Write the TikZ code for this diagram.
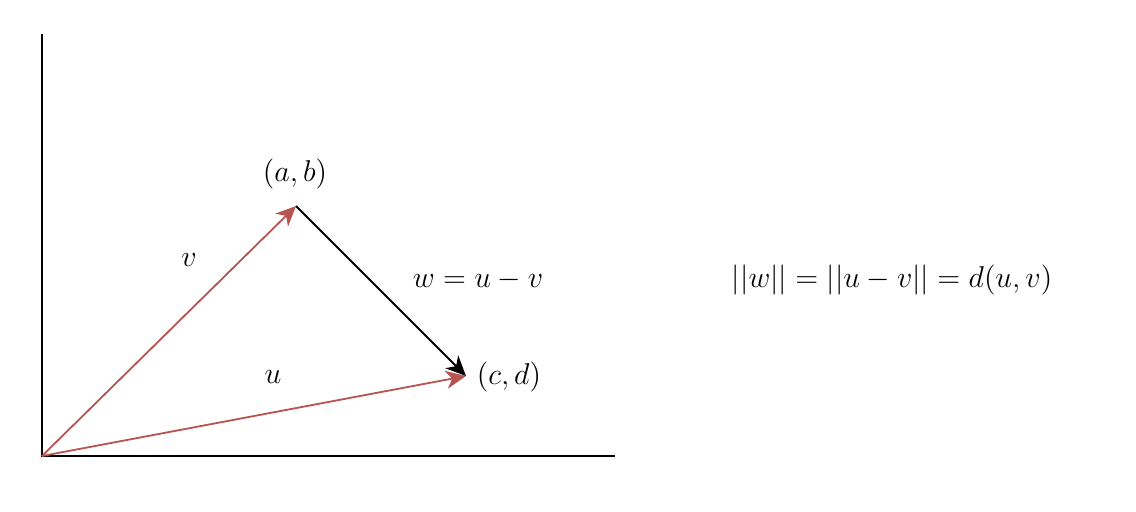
\documentclass[tikz,border=0pt]{standalone}
\usetikzlibrary{arrows.meta}
\definecolor{vred}{HTML}{B85450}
\begin{document}
\begin{tikzpicture}[x=0.5pt,y=-0.5pt,
  axis/.style={line width=0.9pt,black},
  vec/.style={line width=0.9pt,vred,-{Stealth[length=10pt,width=9pt,inset=3pt]}},
  wvec/.style={line width=0.9pt,black,-{Stealth[length=10pt,width=9pt,inset=3pt]}},
  lbl/.style={inner sep=0pt,font=\fontsize{14.4}{17}\selectfont,scale=1.045}]
\useasboundingbox (0,0) rectangle (1136,511);
\coordinate (O) at (42,456);
\coordinate (Ytop) at (42,34);
\coordinate (Xend) at (615,456);
\coordinate (A) at (296,206);
\coordinate (C) at (466,376);
\draw[axis] (Ytop) -- (O) -- (Xend);
\draw[vec] (O) -- (A);
\draw[vec] (O) -- (C);
\draw[wvec] (A) -- (C);
\node[lbl] (lab) at (295,174) {$(a,b)$};
\node[lbl] (lv) at (189,260) {$v$};
\node[lbl] (lw) at (478,280) {$w=u-v$};
\node[lbl] (lu) at (273,377) {$u$};
\node[lbl] (lcd) at (509,377) {$(c,d)$};
\node[lbl] (eq) at (892,280) {$||w||=||u-v||=d(u,v)$};
\end{tikzpicture}
\end{document}
